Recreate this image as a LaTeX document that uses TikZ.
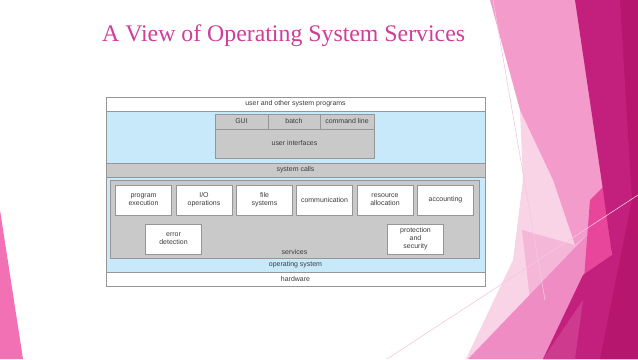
\documentclass[tikz,border=0pt]{standalone}
\usepackage{fontspec}
\setmainfont{Liberation Serif}
\newfontfamily\dsans{Liberation Sans}
\definecolor{titlecol}{RGB}{206,62,154}
\definecolor{lblue}{RGB}{200,233,250}
\definecolor{lgray}{RGB}{201,201,201}
\definecolor{bordergray}{RGB}{150,150,150}
\definecolor{txtgray}{RGB}{60,60,60}
\definecolor{pinkA}{RGB}{243,155,203}
\definecolor{pinkPale}{RGB}{249,212,230}
\definecolor{pinkMed}{RGB}{240,140,196}
\definecolor{pinkHot}{RGB}{232,70,154}
\definecolor{magDark}{RGB}{194,32,124}
\definecolor{magDarker}{RGB}{182,22,110}
\definecolor{pinkLeft}{RGB}{242,112,180}
\definecolor{pinkLine}{RGB}{246,200,222}
\begin{document}
\begin{tikzpicture}[x=1bp,y=-1bp,
  dtext/.style={font=\dsans\fontsize{7}{8.2}\selectfont, text=txtgray, align=center},
  wbox/.style={dtext, draw=bordergray, line width=0.6bp, fill=white, inner sep=0pt, minimum width=56bp, minimum height=30bp},
  band/.style={draw=bordergray, line width=0.6bp},
  lbl/.style={dtext, inner sep=0pt}
]
\useasboundingbox (0,0) rectangle (638,359);
\fill[white] (0,0) rectangle (638,359);
% ---------- background decoration ----------
\fill[pinkLeft] (0,210) -- (23,359) -- (0,359) -- cycle;
\fill[pinkPale] (520,110) -- (553,180) -- (575,245) -- (590,232) -- (468,359) -- (466,359) -- (513,260) -- (523,180) -- cycle;
\fill[pinkA] (490,0) -- (578,0) -- (604,190) -- (590,232) -- (575,245) -- (553,180) -- (520,110) -- cycle;
\fill[pinkA,opacity=0.5] (522,230) -- (575,245) -- (590,232) -- (530,300) -- cycle;
\fill[pinkMed] (468,359) -- (590,232) -- (638,196) -- (638,359) -- cycle;
\fill[pinkHot] (590,200) -- (605,185) -- (612,258) -- (583,292) -- cycle;
\fill[magDark] (575,0) -- (638,0) -- (638,359) -- (543,359) -- (583,275) -- (612,255) -- (603,190) -- cycle;
\fill[magDarker] (620,0) -- (638,0) -- (638,359) -- (600,359) -- (632,200) -- cycle;
\fill[magDark!75!pinkMed] (543,359) -- (583,300) -- (575,359) -- cycle;
\draw[pinkLine, line width=0.6bp] (493,0) -- (545,300);
\draw[pinkLine, line width=0.6bp] (387,359) -- (638,195);
% ---------- title ----------
\node[anchor=base west, inner sep=0pt, text=titlecol, font=\fontsize{23.9}{28}\selectfont] (title) at (102,41) {A View of Operating System Services};
% ---------- diagram ----------
\fill[lblue] (106,97) rectangle (485,286);
\draw[band, fill=white] (106,97) rectangle (485,111);
\node[lbl] (usr) at (295.5,104) {user and other system programs};
% user interfaces
\draw[band, fill=lgray] (215,114) rectangle (374,158);
\draw[band] (215,129) -- (374,129);
\draw[band] (268,114) -- (268,129);
\draw[band] (320,114) -- (320,129);
\node[lbl] (gui) at (241.5,121.5) {GUI};
\node[lbl] (batch) at (294,121.5) {batch};
\node[lbl] (cmd) at (347,121.5) {command line};
\node[lbl] (ui) at (294.5,143.5) {user interfaces};
% system calls
\draw[band, fill=lgray] (106,163) rectangle (485,177);
\node[lbl] (sc) at (295.5,170) {system calls};
% services
\draw[band, fill=lgray] (110,180) rectangle (479,258);
\node[wbox] (pe) at (143.5,200) {program\\execution};
\node[wbox] (io) at (204,200) {I/O\\operations};
\node[wbox] (fs) at (264.5,200) {file\\systems};
\node[wbox] (comm) at (324.5,200) {communication};
\node[wbox] (res) at (385,200) {resource\\allocation};
\node[wbox] (acc) at (445.5,200) {accounting};
\node[wbox] (err) at (173.5,239) {error\\detection};
\node[wbox] (prot) at (415.5,239) {protection\\and\\security};
\node[lbl] (serv) at (294.5,252) {services};
\node[lbl] (os) at (295.5,265) {operating system};
% hardware
\draw[band, fill=white] (106,272) rectangle (485,286);
\node[lbl] (hw) at (295.5,279) {hardware};
\draw[band] (106,97) rectangle (485,286);
\end{tikzpicture}
\end{document}
